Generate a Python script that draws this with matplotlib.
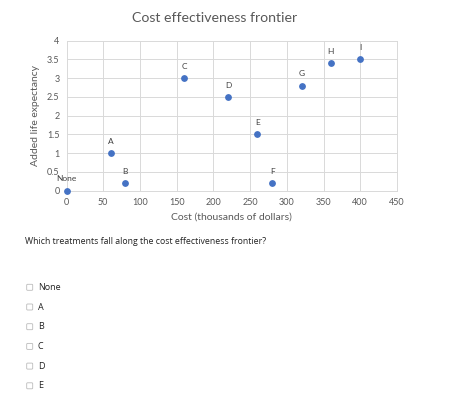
import matplotlib.pyplot as plt
from matplotlib.patches import FancyBboxPatch

# data
treatments = ['None', 'A', 'B', 'C', 'D', 'E', 'F', 'G', 'H', 'I']
cost = [0, 60, 80, 160, 220, 260, 280, 320, 360, 400]
life = [0, 1, 0.2, 3, 2.5, 1.5, 0.2, 2.8, 3.4, 3.5]

question = 'Which treatments fall along the cost effectiveness frontier?'
options = ['None', 'A', 'B', 'C', 'D', 'E']

W, H = 474, 399
plt.rcParams['font.family'] = ['Lato', 'DejaVu Sans']

fig = plt.figure(figsize=(W / 100, H / 100), dpi=100)
fig.patch.set_facecolor('white')

# plot area in pixels
left, right, top, bottom = 66.5, 397, 40.7, 190.7
ax = fig.add_axes([left / W, 1 - bottom / H, (right - left) / W, (bottom - top) / H])

ax.scatter(cost, life, s=15, color='#4472C4', zorder=3, clip_on=False)
for name, x, y in zip(treatments, cost, life):
    ax.annotate(name, (x, y), xytext=(0, 8.5), textcoords='offset points',
                ha='center', va='center', fontsize=6, color='#404040')

ax.set_xlim(0, 450)
ax.set_ylim(0, 4)
ax.set_xticks(range(0, 451, 50))
ax.set_yticks([i * 0.5 for i in range(9)])
ax.set_yticklabels(['0', '0.5', '1', '1.5', '2', '2.5', '3', '3.5', '4'])
ax.tick_params(length=0, labelsize=6.5, labelcolor='#595959', pad=5)
ax.grid(True, color='#D9D9D9', linewidth=0.7)
for line in ax.get_xgridlines() + ax.get_ygridlines():
    line.set_clip_on(False)
ax.set_axisbelow(True)
for s in ax.spines.values():
    s.set_visible(False)

ax.set_xlabel('Cost (thousands of dollars)', fontsize=7.5, color='#595959', labelpad=4)
ax.set_ylabel('Added life expectancy', fontsize=7.5, color='#595959', labelpad=5)
fig.text(215 / W, 1 - 18 / H, 'Cost effectiveness frontier', ha='center', va='center',
         fontsize=10.2, color='#595959')

# question below the chart
fig.text(25 / W, 1 - 241 / H, question, ha='left', va='center',
         fontsize=6.3, color='#222222', family=['Open Sans', 'DejaVu Sans'])

for i, opt in enumerate(options):
    yc = 287.3 + i * 19.7
    box = FancyBboxPatch(((29.7 - 3) / W, 1 - (yc + 3) / H), 6 / W, 6 / H,
                         boxstyle='round,pad=0,rounding_size=0.002',
                         transform=fig.transFigure, facecolor='white',
                         edgecolor='#BBBBBB', linewidth=0.6)
    fig.patches.append(box)
    fig.text(38 / W, 1 - yc / H, opt, ha='left', va='center', fontsize=6.5,
             color='#222222', family=['Open Sans', 'DejaVu Sans'])

fig.savefig('out.png', dpi=100)
